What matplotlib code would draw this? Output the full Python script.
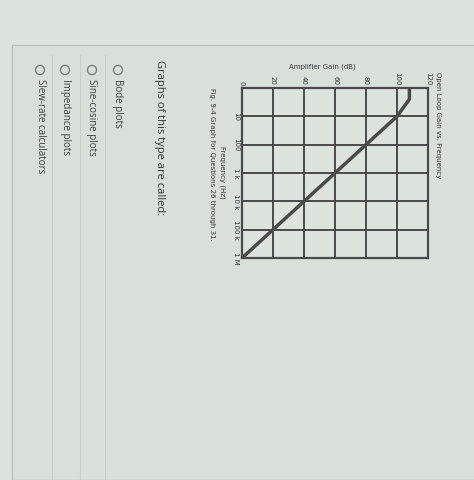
import matplotlib
matplotlib.use("Agg")
import matplotlib.pyplot as plt
from matplotlib.patches import Circle
from matplotlib.lines import Line2D

freq = [1, 2.5, 10, 100, 1e3, 1e4, 1e5, 1e6]
gain = [108, 108, 100, 80, 60, 40, 20, 0]
gain_ticks = [0, 20, 40, 60, 80, 100, 120]
freq_ticks = [10, 100, 1e3, 1e4, 1e5, 1e6]
freq_labels = ["10", "100", "1 k", "10 k", "100 k", "1 M"]
question = "Graphs of this type are called:"
options = ["Bode plots", "Sine-cosine plots", "Impedance plots", "Slew-rate calculators"]

W, H = 474, 480
fig = plt.figure(figsize=(W/100, H/100), dpi=100)
fig.patch.set_facecolor("#dde3dd")

def P(x, y):
    return (x / W, 1 - y / H)

# page panel
fig.patches.append(plt.Rectangle(P(12, 480), 1, (480-45)/H, transform=fig.transFigure,
                                 facecolor="#d9e0da", edgecolor="#b9c2bb", lw=1, zorder=-10))
for x in [105, 80, 52]:
    fig.lines.append(Line2D([x/W, x/W], [0, 1-55/H], transform=fig.transFigure,
                            color="#c8d0ca", lw=0.8, zorder=-5))

ax = fig.add_axes([242/W, 1-258/H, 186/W, 170/H], zorder=5)
ax.set_facecolor("#dde3dd")
ax.plot(gain, freq, color="#4a4a4a", lw=2.5, zorder=3)
ax.set_yscale("log")
ax.set_xlim(0, 120)
ax.set_ylim(1e6, 1)
ax.set_xticks(gain_ticks)
ax.set_xticklabels([str(g) for g in gain_ticks], rotation=-90, fontsize=5, color="#333")
ax.set_yticks(freq_ticks)
ax.set_yticklabels(freq_labels, rotation=-90, fontsize=5, color="#333", va="center")
ax.minorticks_off()
ax.xaxis.tick_top()
ax.tick_params(length=0, pad=2)
ax.grid(True, color="#4a4a4a", lw=1.4)
for s in ax.spines.values():
    s.set_color("#4a4a4a"); s.set_linewidth(1.6)

kw = dict(color="#333", rotation=-90, fontsize=5)
fig.text(*P(438, 72), "Open Loop Gain vs. Frequency", ha="center", va="top", **kw)
fig.text(*P(222, 172), "Frequency (Hz)", ha="center", va="center", **kw)
fig.text(*P(212, 88), "Fig. 9-4 Graph for Questions 26 through 31.", ha="center", va="top", **kw)
fig.text(*P(322, 67), "Amplifier Gain (dB)", ha="center", va="center", fontsize=5, color="#333")

fig.text(*P(160, 60), question, ha="center", va="top", rotation=-90, fontsize=8,
         color="#2f3330", family="Open Sans")
xs = [118, 92, 65, 40]
for x, t in zip(xs, options):
    fig.patches.append(Circle(P(x, 70), 4.5/W, transform=fig.transFigure,
                              facecolor="none", edgecolor="#7a807c", lw=1))
    fig.text(*P(x, 79), t, ha="center", va="top", rotation=-90, fontsize=7,
             color="#3a3e3b", family="Open Sans")

fig.savefig("out.png", dpi=100, facecolor=fig.get_facecolor())
